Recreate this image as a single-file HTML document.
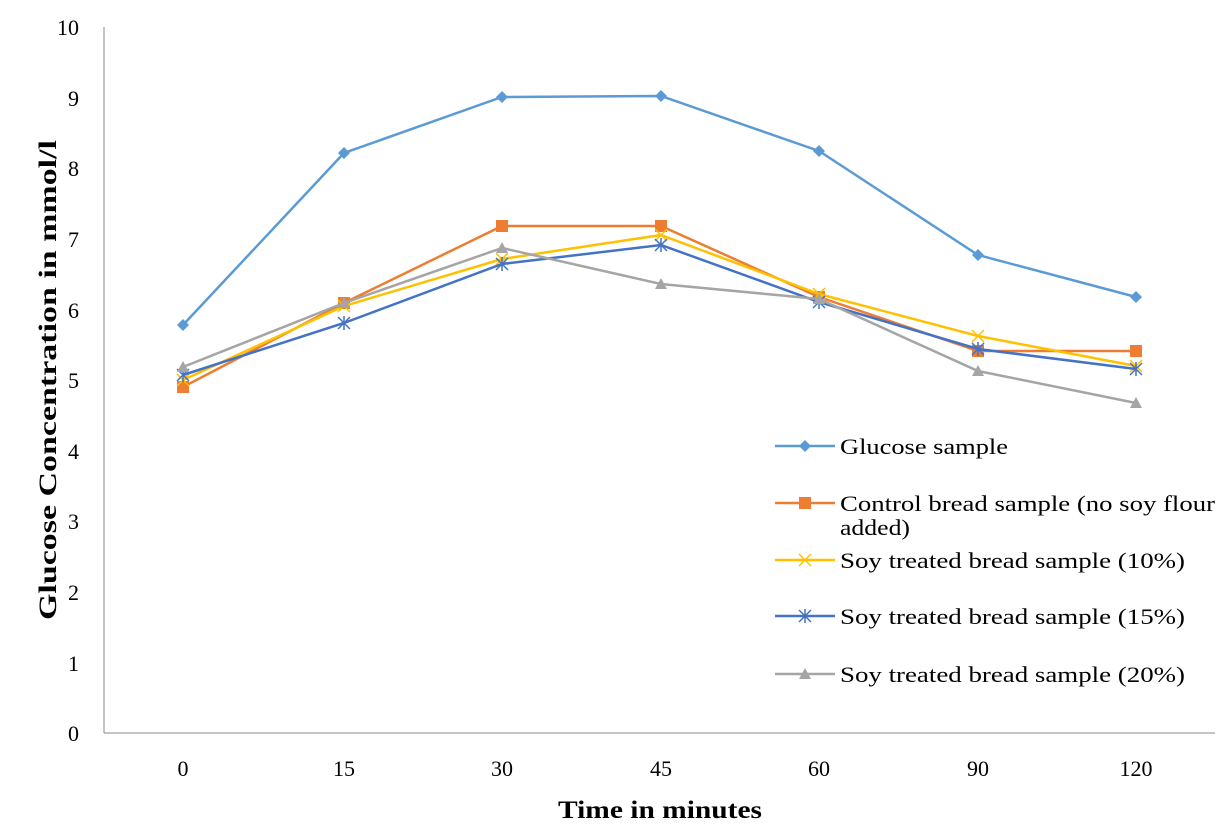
<!DOCTYPE html>
<html><head><style>body{margin:0;background:#fff}svg{display:block}text{font-family:"Liberation Serif",serif;fill:#000}</style></head>
<body>
<svg width="1225" height="838" viewBox="0 0 1225 838">
<defs>
<marker id="d" markerWidth="14" markerHeight="14" refX="7" refY="7" markerUnits="userSpaceOnUse"><path d="M7 1L13 7L7 13L1 7Z" fill="#5B9BD5"/></marker>
<marker id="s" markerWidth="14" markerHeight="14" refX="7" refY="7" markerUnits="userSpaceOnUse"><rect x="1" y="1" width="12" height="12" fill="#ED7D31"/></marker>
<marker id="x" markerWidth="14" markerHeight="14" refX="7" refY="7" markerUnits="userSpaceOnUse"><path d="M1 1L13 13M13 1L1 13" stroke="#FFC000" stroke-width="1.5"/></marker>
<marker id="a" markerWidth="16" markerHeight="16" refX="8" refY="8" markerUnits="userSpaceOnUse"><path d="M2 2L14 14M14 2L2 14M8 1V15" stroke="#4472C4" stroke-width="1.5"/></marker>
<marker id="t" markerWidth="14" markerHeight="14" refX="7" refY="7" markerUnits="userSpaceOnUse"><path d="M7 1L13 12H1Z" fill="#A5A5A5"/></marker>
</defs>
<line x1="104" y1="27" x2="104" y2="733" stroke="#888" stroke-width="1"/>
<line x1="104" y1="733" x2="1215" y2="733" stroke="#888" stroke-width="1"/>
<g font-size="22" text-anchor="end">
<text x="79" y="741">0</text><text x="79" y="671">1</text><text x="79" y="600">2</text><text x="79" y="529">3</text><text x="79" y="459">4</text><text x="79" y="388">5</text><text x="79" y="318">6</text><text x="79" y="247">7</text><text x="79" y="176">8</text><text x="79" y="106">9</text><text x="79" y="35">10</text>
</g>
<g font-size="22" text-anchor="middle">
<text x="183" y="776">0</text><text x="344" y="776">15</text><text x="502" y="776">30</text><text x="661" y="776">45</text><text x="819" y="776">60</text><text x="978" y="776">90</text><text x="1136" y="776">120</text>
</g>
<text x="558" y="818" font-weight="bold" font-size="25" textLength="204" lengthAdjust="spacingAndGlyphs">Time in minutes</text>
<text transform="translate(56 620) rotate(-90)" font-weight="bold" font-size="25" textLength="480" lengthAdjust="spacingAndGlyphs">Glucose Concentration in mmol/l</text>
<g fill="none" stroke-width="2.5">
<polyline stroke="#5B9BD5" marker-start="url(#d)" marker-mid="url(#d)" marker-end="url(#d)" points="183,325 344,153 502,97 661,96 819,151 978,255 1136,297"/>
<polyline stroke="#ED7D31" marker-start="url(#s)" marker-mid="url(#s)" marker-end="url(#s)" points="183,387 344,303 502,226 661,226 819,297 978,351 1136,351"/>
<polyline stroke="#FFC000" marker-start="url(#x)" marker-mid="url(#x)" marker-end="url(#x)" points="183,380 344,306 502,259 661,235 819,294 978,336 1136,366"/>
<polyline stroke="#4472C4" marker-start="url(#a)" marker-mid="url(#a)" marker-end="url(#a)" points="183,375 344,323 502,264 661,245 819,302 978,349 1136,369"/>
<polyline stroke="#A5A5A5" marker-start="url(#t)" marker-mid="url(#t)" marker-end="url(#t)" points="183,367 344,303 502,248 661,284 819,299 978,371 1136,403"/>
<polyline stroke="#5B9BD5" marker-mid="url(#d)" points="775,446 805,446 835,446"/>
<polyline stroke="#ED7D31" marker-mid="url(#s)" points="775,503 805,503 835,503"/>
<polyline stroke="#FFC000" marker-mid="url(#x)" points="775,560 805,560 835,560"/>
<polyline stroke="#4472C4" marker-mid="url(#a)" points="775,616 805,616 835,616"/>
<polyline stroke="#A5A5A5" marker-mid="url(#t)" points="775,674 805,674 835,674"/>
</g>
<g font-size="22">
<text x="840" y="454" textLength="168" lengthAdjust="spacingAndGlyphs">Glucose sample</text>
<text x="840" y="511" textLength="375" lengthAdjust="spacingAndGlyphs">Control bread sample (no soy flour</text>
<text x="840" y="535" textLength="70" lengthAdjust="spacingAndGlyphs">added)</text>
<text x="840" y="568" textLength="345" lengthAdjust="spacingAndGlyphs">Soy treated bread sample (10%)</text>
<text x="840" y="624" textLength="345" lengthAdjust="spacingAndGlyphs">Soy treated bread sample (15%)</text>
<text x="840" y="682" textLength="345" lengthAdjust="spacingAndGlyphs">Soy treated bread sample (20%)</text>
</g>
</svg>
</body></html>
